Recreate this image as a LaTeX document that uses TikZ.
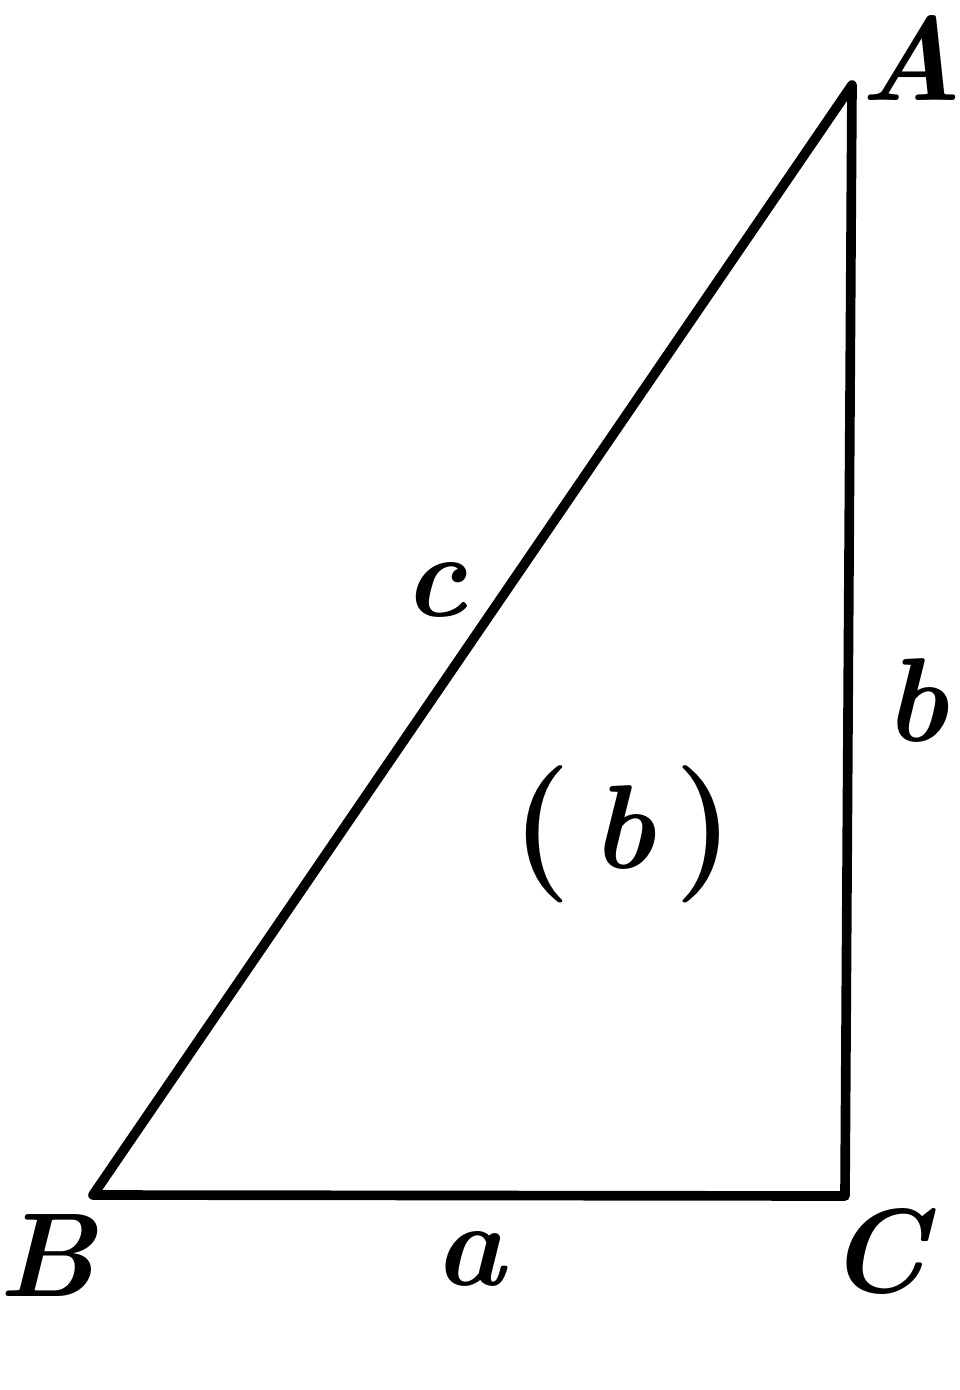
\documentclass[tikz,border=0pt]{standalone}

\begin{document}
\begin{tikzpicture}[x=0.02cm, y=-0.02cm, line width=5.5pt, line join=round, line cap=round,
  lbl/.style={inner sep=0pt, font=\fontsize{68}{80}\selectfont\bfseries\itshape}]
  \useasboundingbox (0,0) rectangle (960,1390);
  % vertices
  \coordinate (A) at (852,85);
  \coordinate (B) at (93,1195);
  \coordinate (C) at (845,1196);
  % triangle
  \draw (A) -- (B) -- (C) -- cycle;
  % vertex labels
  \node[lbl] (labA) at (911,58) {A};
  \node[lbl] (labB) at (47,1256) {B};
  \node[lbl] (labC) at (877,1252) {C};
  % side labels
  \node[lbl] (laba) at (470,1259) {a};
  \node[lbl] (labb) at (916,700) {b};
  \node[lbl] (labc) at (435,590) {c};
  % figure label
  \node[lbl] (fig) at (623,834) {{\upshape\fontsize{78}{80}\selectfont(}\,b\,{\upshape\fontsize{78}{80}\selectfont)}};
\end{tikzpicture}
\end{document}
